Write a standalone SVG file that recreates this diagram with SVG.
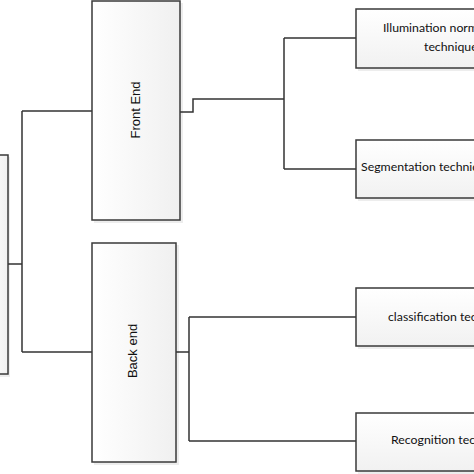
<svg xmlns="http://www.w3.org/2000/svg" width="474" height="474" viewBox="0 0 474 474">
<defs>
<linearGradient id="gv" x1="0" y1="0" x2="1" y2="0">
<stop offset="0" stop-color="#ffffff"/>
<stop offset="1" stop-color="#f0f0f0"/>
</linearGradient>
<linearGradient id="gh" x1="0" y1="0" x2="0" y2="1">
<stop offset="0" stop-color="#ffffff"/>
<stop offset="1" stop-color="#f1f1f1"/>
</linearGradient>
</defs>
<style>
.box{stroke:#3a3a3a;stroke-width:1.5}
.v{fill:url(#gv)}
.h{fill:url(#gh)}
.sh{fill:#000;opacity:0.07}
.conn{fill:none;stroke:#333;stroke-width:1.5}
.rt{font-family:"Liberation Sans",Arial,sans-serif;font-size:13px;fill:#111}
.lt{font-family:Lato,"Open Sans",sans-serif;font-size:12.3px;fill:#111}
</style>
<rect width="474" height="474" fill="#ffffff"/>
<g id="connectors">
<path class="conn" d="M8,264 H22 M22,111 V352 M22,111 H92 M22,352 H92"/>
<path class="conn" d="M180,112 H193 V99 H284 M284,38 V169 M284,38 H356 M284,169 H356"/>
<path class="conn" d="M176,352 H189 M189,317 V441 M189,317 H356 M189,441 H356"/>
</g>
<g id="root">
<rect class="sh" x="-10" y="157" width="20" height="220"/>
<rect class="box v" x="-10" y="155" width="18" height="219"/>
</g>
<g id="front-end">
<rect class="sh" x="94" y="3" width="89" height="220"/>
<rect class="box v" x="92" y="1" width="88" height="219"/>
<text class="rt" transform="translate(139.5,110) rotate(-90)" text-anchor="middle">Front End</text>
</g>
<g id="back-end">
<rect class="sh" x="94" y="245" width="85" height="220"/>
<rect class="box v" x="92" y="243" width="84" height="219"/>
<text class="rt" transform="translate(137,351) rotate(-90)" text-anchor="middle">Back end</text>
</g>
<g id="illumination">
<rect class="sh" x="358" y="11" width="200" height="60"/>
<rect class="box h" x="356" y="9" width="200" height="59"/>
<text class="lt" x="383" y="32">Illumination normalization</text>
<text class="lt" x="424" y="51">techniques</text>
</g>
<g id="segmentation">
<rect class="sh" x="358" y="142" width="200" height="59"/>
<rect class="box h" x="356" y="140" width="200" height="58"/>
<text class="lt" x="361" y="171">Segmentation techniques</text>
</g>
<g id="classification">
<rect class="sh" x="358" y="290" width="200" height="59"/>
<rect class="box h" x="356" y="288" width="200" height="58"/>
<text class="lt" x="388" y="321">classification techniques</text>
</g>
<g id="recognition">
<rect class="sh" x="358" y="415" width="200" height="59"/>
<rect class="box h" x="356" y="413" width="200" height="58"/>
<text class="lt" x="391" y="444">Recognition techniques</text>
</g>
</svg>
